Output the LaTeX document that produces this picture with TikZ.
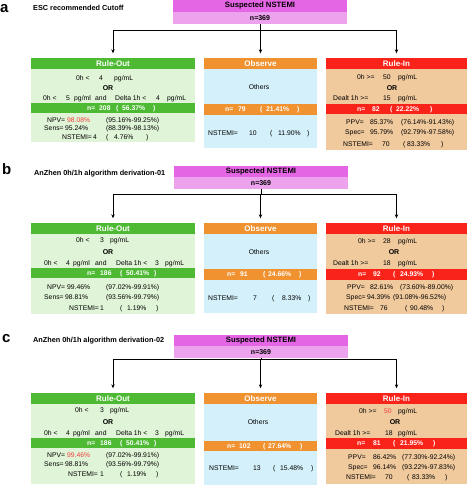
\documentclass[tikz,border=0pt]{standalone}
\usepackage{fontspec}
\setmainfont{Liberation Sans}
\usepackage{xcolor}
\usepackage{tikz}
\usetikzlibrary{arrows.meta}
\definecolor{suspdark}{RGB}{229,102,229}
\definecolor{susplight}{RGB}{236,162,236}
\definecolor{rogreen}{RGB}{78,186,52}
\definecolor{robody}{RGB}{224,245,215}
\definecolor{oborange}{RGB}{240,146,48}
\definecolor{obbody}{RGB}{212,240,250}
\definecolor{rired}{RGB}{250,35,25}
\definecolor{ribody}{RGB}{240,201,157}
\definecolor{redtxt}{RGB}{245,60,60}

\begin{document}
\begin{tikzpicture}[x=1pt, y=-1pt,
    txt/.style={anchor=west, inner sep=0pt, text height=4.9pt, text depth=0pt, font=\fontsize{6.8}{8}\selectfont},
    wtxt/.style={txt, text=white, font=\fontsize{6.8}{8}\selectfont\bfseries},
    ortxt/.style={inner sep=0pt, text height=5pt, text depth=0pt, font=\fontsize{7}{8}\selectfont\bfseries},
    hdr/.style={inner sep=0pt, minimum height=11pt, text=white, font=\fontsize{8}{9}\selectfont\bfseries},
    susp/.style={inner sep=0pt, minimum width=174pt, font=\fontsize{7.7}{9}\selectfont\bfseries},
    title/.style={anchor=west, inner sep=0pt, font=\fontsize{7.3}{8}\selectfont\bfseries},
    letter/.style={anchor=base west, inner sep=0pt, font=\fontsize{15}{16}\selectfont\bfseries},
    line/.style={line width=0.6pt},
    arr/.style={line, -{Stealth[length=4pt,width=3.4pt]}, shorten >=4.5pt}]
\useasboundingbox (0,0) rectangle (474,489);

% panel a
\node[letter] (a-lab) at (0,13) {a};
\node[title] (a-title) at (33,8) {ESC recommended Cutoff};
\node[susp, fill=suspdark, minimum height=12pt] (a-susp) at (260,6) {Suspected NSTEMI};
\node[susp, fill=susplight, minimum height=12pt, font=\fontsize{7}{8}\selectfont\bfseries] (a-n) at (260,18) {n=369};
\fill[robody] (31,58) rectangle (195,142);
\fill[rogreen] (31,103) rectangle (195,113);
\fill[obbody] (204,58) rectangle (317,148);
\fill[oborange] (204,104) rectangle (317,115);
\fill[ribody] (326,58) rectangle (467,150);
\fill[rired] (326,104) rectangle (467,114);
\node[hdr, fill=rogreen, minimum width=164pt] (a-ro) at (113,63.5) {Rule-Out};
\node[hdr, fill=oborange, minimum width=113pt] (a-ob) at (260.5,63.5) {Observe};
\node[hdr, fill=rired, minimum width=141pt] (a-ri) at (396.5,63.5) {Rule-In};
\coordinate (a-split) at (260,30);
\draw[line] (a-n.south) -- (a-split);
\foreach \t in {a-ro, a-ob, a-ri}
    \draw[arr] (a-split) -| (\t.north);

\foreach \x/\t [count=\i] in {76/0h <, 99/4, 114/{pg/mL}}
    \node[txt] (a-ro1-\i) at (\x,78) {\t};
\node[ortxt] (a-ro-or) at (108,88) {OR};
\foreach \x/\t [count=\i] in {43/0h <, 66/5, 74/{pg/ml}, 95/and, 115/Delta 1h <, 156/4, 167/{pg/mL}}
    \node[txt] (a-ro3-\i) at (\x,98) {\t};
\foreach \x/\t [count=\i] in {87/n=, 99/208, 116/(, 122/56.37\%, 153/)}
    \node[wtxt] (a-ron-\i) at (\x,108) {\t};
\foreach \x/\t [count=\i] in {47/NPV=, 67/\textcolor{redtxt}{98.08\%}, 106/(95.16\%-99.25\%)}
    \node[txt] (a-ro5-\i) at (\x,120) {\t};
\foreach \x/\t [count=\i] in {44/Sens=, 65/95.24\%, 106/(88.39\%-98.13\%)}
    \node[txt] (a-ro6-\i) at (\x,128) {\t};
\foreach \x/\t [count=\i] in {62/NSTEMI=, 93/4, 106/(, 114/4.76\%, 146/)}
    \node[txt] (a-ro7-\i) at (\x,137) {\t};

\node[txt, anchor=center] (a-ob1) at (259,87) {Others};
\foreach \x/\t [count=\i] in {225/n=, 238/79, 260/(, 266/21.41\%, 297/)}
    \node[wtxt] (a-obn-\i) at (\x,109.5) {\t};
\foreach \x/\t [count=\i] in {208/NSTEMI=, 249/10, 270/(, 278/11.90\%, 307/)}
    \node[txt] (a-ob3-\i) at (\x,133) {\t};

\foreach \x/\t [count=\i] in {357/0h >=, 383/50, 398/{pg/mL}}
    \node[txt] (a-ri1-\i) at (\x,77) {\t};
\node[ortxt] (a-ri-or) at (392,88) {OR};
\foreach \x/\t [count=\i] in {333/Dealt 1h >=, 383/15, 398/{pg/mL}}
    \node[txt] (a-ri3-\i) at (\x,98) {\t};
\foreach \x/\t [count=\i] in {357/n=, 372/82, 390/(, 396/22.22\%, 430/)}
    \node[wtxt] (a-rin-\i) at (\x,109) {\t};
\foreach \x/\t [count=\i] in {346/PPV=, 370/85.37\%, 401/(76.14\%-91.43\%)}
    \node[txt] (a-ri5-\i) at (\x,122) {\t};
\foreach \x/\t [count=\i] in {345/Spec=, 370/95.79\%, 401/(92.79\%-97.58\%)}
    \node[txt] (a-ri6-\i) at (\x,132) {\t};
\foreach \x/\t [count=\i] in {343/NSTEMI=, 382/70, 403/(, 407/83.33\%, 441/)}
    \node[txt] (a-ri7-\i) at (\x,144) {\t};

% panel b
\node[letter] (b-lab) at (2,175) {b};
\node[title] (b-title) at (34,174) {AnZhen 0h/1h algorithm derivation-01};
\node[susp, fill=suspdark, minimum height=11pt] (b-susp) at (261,171.5) {Suspected NSTEMI};
\node[susp, fill=susplight, minimum height=12pt, font=\fontsize{7}{8}\selectfont\bfseries] (b-n) at (261,183) {n=369};
\fill[robody] (31,223) rectangle (195,314);
\fill[rogreen] (31,268) rectangle (195,278);
\fill[obbody] (204,223) rectangle (317,313);
\fill[oborange] (204,269) rectangle (317,280);
\fill[ribody] (326,223) rectangle (467,314);
\fill[rired] (326,269) rectangle (467,280);
\node[hdr, fill=rogreen, minimum width=164pt] (b-ro) at (113,228.5) {Rule-Out};
\node[hdr, fill=oborange, minimum width=113pt] (b-ob) at (260.5,228.5) {Observe};
\node[hdr, fill=rired, minimum width=141pt] (b-ri) at (396.5,228.5) {Rule-In};
\coordinate (b-split) at (261,194);
\draw[line] (b-n.south) -- (b-split);
\foreach \t in {b-ro, b-ob, b-ri}
    \draw[arr] (b-split) -| (\t.north);

\foreach \x/\t [count=\i] in {76/0h <, 100/3, 110/{pg/mL}}
    \node[txt] (b-ro1-\i) at (\x,240) {\t};
\node[ortxt] (b-ro-or) at (108,252) {OR};
\foreach \x/\t [count=\i] in {44/0h <, 66/4, 73/{pg/ml}, 95/and, 116/Delta 1h <, 155/3, 165/{pg/mL}}
    \node[txt] (b-ro3-\i) at (\x,263) {\t};
\foreach \x/\t [count=\i] in {87/n=, 100/186, 120/(, 126/50.41\%, 154/)}
    \node[wtxt] (b-ron-\i) at (\x,273) {\t};
\foreach \x/\t [count=\i] in {47/NPV=, 67/99.46\%, 106/(97.02\%-99.91\%)}
    \node[txt] (b-ro5-\i) at (\x,287) {\t};
\foreach \x/\t [count=\i] in {44/Sens=, 65/98.81\%, 106/(93.56\%-99.79\%)}
    \node[txt] (b-ro6-\i) at (\x,297) {\t};
\foreach \x/\t [count=\i] in {69/NSTEMI=, 100/1, 120/(, 127/1.19\%, 156/)}
    \node[txt] (b-ro7-\i) at (\x,308) {\t};

\node[txt, anchor=center] (b-ob1) at (259,252) {Others};
\foreach \x/\t [count=\i] in {227/n=, 240/91, 263/(, 268/24.66\%, 299/)}
    \node[wtxt] (b-obn-\i) at (\x,274.5) {\t};
\foreach \x/\t [count=\i] in {208/NSTEMI=, 253/7, 272/(, 282/8.33\%, 308/)}
    \node[txt] (b-ob3-\i) at (\x,298) {\t};

\foreach \x/\t [count=\i] in {358/0h >=, 383/28, 398/{pg/mL}}
    \node[txt] (b-ri1-\i) at (\x,241) {\t};
\node[ortxt] (b-ri-or) at (394,252) {OR};
\foreach \x/\t [count=\i] in {333/Dealt 1h >=, 383/18, 398/{pg/mL}}
    \node[txt] (b-ri3-\i) at (\x,263) {\t};
\foreach \x/\t [count=\i] in {358/n=, 373/92, 393/(, 400/24.93\%, 432/)}
    \node[wtxt] (b-rin-\i) at (\x,274.5) {\t};
\foreach \x/\t [count=\i] in {347/PPV=, 370/82.61\%, 400/(73.60\%-89.00\%)}
    \node[txt] (b-ri5-\i) at (\x,287) {\t};
\foreach \x/\t [count=\i] in {346/Spec=, 367/94.39\%, 393/(91.08\%-96.52\%)}
    \node[txt] (b-ri6-\i) at (\x,297) {\t};
\foreach \x/\t [count=\i] in {344/NSTEMI=, 380/76, 405/(, 410/90.48\%, 442/)}
    \node[txt] (b-ri7-\i) at (\x,308) {\t};

% panel c
\node[letter] (c-lab) at (2,342) {c};
\node[title] (c-title) at (33,341) {AnZhen 0h/1h algorithm derivation-02};
\node[susp, fill=suspdark, minimum height=11pt] (c-susp) at (261,340.5) {Suspected NSTEMI};
\node[susp, fill=susplight, minimum height=12pt, font=\fontsize{7}{8}\selectfont\bfseries] (c-n) at (261,352) {n=369};
\fill[robody] (31,393) rectangle (195,484);
\fill[rogreen] (31,438) rectangle (195,448);
\fill[obbody] (204,393) rectangle (317,485);
\fill[oborange] (204,441) rectangle (317,451);
\fill[ribody] (326,393) rectangle (467,484);
\fill[rired] (326,438) rectangle (467,449);
\node[hdr, fill=rogreen, minimum width=164pt] (c-ro) at (113,398.5) {Rule-Out};
\node[hdr, fill=oborange, minimum width=113pt] (c-ob) at (260.5,398.5) {Observe};
\node[hdr, fill=rired, minimum width=141pt] (c-ri) at (396.5,398.5) {Rule-In};
\coordinate (c-split) at (261,359);
\draw[line] (c-n.south) -- (c-split);
\foreach \t in {c-ro, c-ob, c-ri}
    \draw[arr] (c-split) -| (\t.north);

\foreach \x/\t [count=\i] in {75/0h <, 100/3, 110/{pg/mL}}
    \node[txt] (c-ro1-\i) at (\x,410) {\t};
\node[ortxt] (c-ro-or) at (108,422) {OR};
\foreach \x/\t [count=\i] in {44/0h <, 66/4, 73/{pg/ml}, 95/and, 116/Delta 1h <, 155/3, 165/{pg/mL}}
    \node[txt] (c-ro3-\i) at (\x,433) {\t};
\foreach \x/\t [count=\i] in {87/n=, 100/186, 120/(, 126/50.41\%, 154/)}
    \node[wtxt] (c-ron-\i) at (\x,443) {\t};
\foreach \x/\t [count=\i] in {47/NPV=, 67/\textcolor{redtxt}{99.46\%}, 106/(97.02\%-99.91\%)}
    \node[txt] (c-ro5-\i) at (\x,455) {\t};
\foreach \x/\t [count=\i] in {44/Sens=, 65/98.81\%, 106/(93.56\%-99.79\%)}
    \node[txt] (c-ro6-\i) at (\x,464) {\t};
\foreach \x/\t [count=\i] in {68/NSTEMI=, 100/1, 120/(, 127/1.19\%, 156/)}
    \node[txt] (c-ro7-\i) at (\x,474) {\t};

\node[txt, anchor=center] (c-ob1) at (258,422) {Others};
\foreach \x/\t [count=\i] in {227/n=, 239/102, 263/(, 268/27.64\%, 300/)}
    \node[wtxt] (c-obn-\i) at (\x,446) {\t};
\foreach \x/\t [count=\i] in {209/NSTEMI=, 253/13, 273/(, 280/15.48\%, 311/)}
    \node[txt] (c-ob3-\i) at (\x,468) {\t};

\foreach \x/\t [count=\i] in {359/0h >=, 384/\textcolor{redtxt}{50}, 398/{pg/mL}}
    \node[txt] (c-ri1-\i) at (\x,411) {\t};
\node[ortxt] (c-ri-or) at (395,422) {OR};
\foreach \x/\t [count=\i] in {335/Dealt 1h >=, 385/18, 398/{pg/mL}}
    \node[txt] (c-ri3-\i) at (\x,433) {\t};
\foreach \x/\t [count=\i] in {357/n=, 373/81, 393/(, 400/21.95\%, 433/)}
    \node[wtxt] (c-rin-\i) at (\x,443.5) {\t};
\foreach \x/\t [count=\i] in {348/PPV=, 373/86.42\%, 402/(77.30\%-92.24\%)}
    \node[txt] (c-ri5-\i) at (\x,457) {\t};
\foreach \x/\t [count=\i] in {348/Spec=, 373/96.14\%, 402/(93.22\%-97.83\%)}
    \node[txt] (c-ri6-\i) at (\x,467) {\t};
\foreach \x/\t [count=\i] in {346/NSTEMI=, 385/70, 407/(, 412/83.33\%, 445/)}
    \node[txt] (c-ri7-\i) at (\x,477) {\t};
\end{tikzpicture}
\end{document}
